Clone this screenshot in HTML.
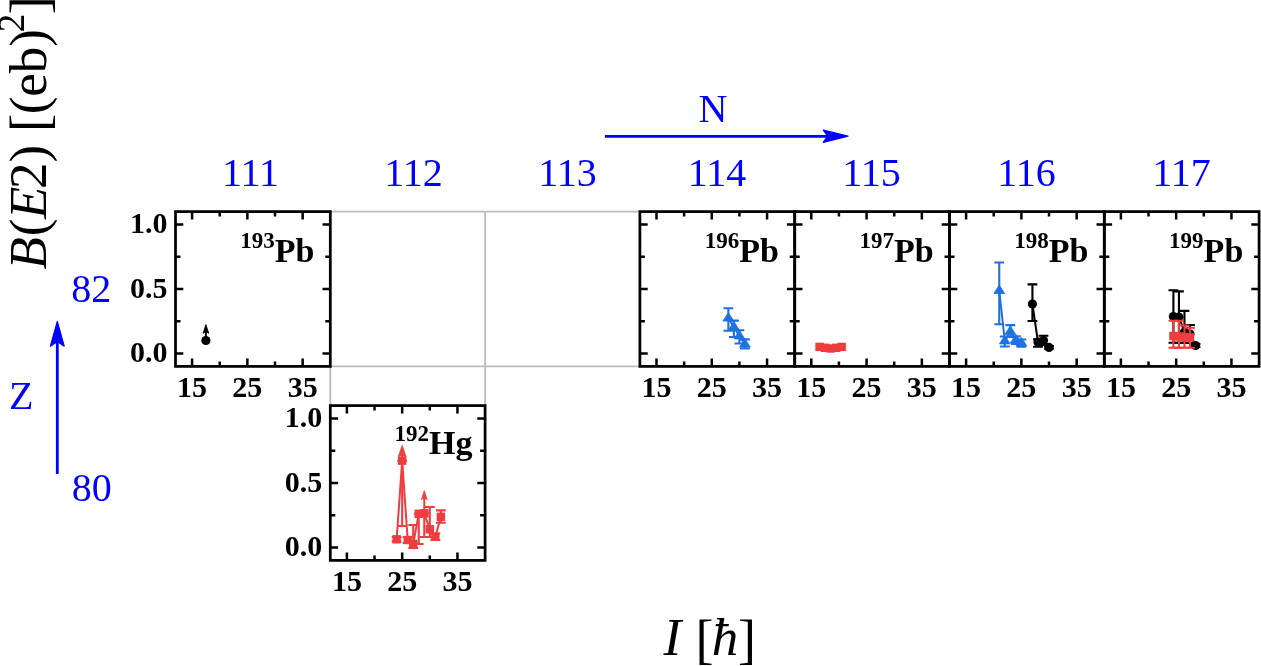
<!DOCTYPE html>
<html><head><meta charset="utf-8"><title>B(E2) systematics</title><style>
html,body{margin:0;padding:0;background:#fff;width:1261px;height:666px;overflow:hidden}
svg{display:block}
text{font-family:"Liberation Serif","Times New Roman",serif}
</style></head><body>
<svg width="1261" height="666" viewBox="0 0 1261 666">
<g stroke="#bdbdbd" stroke-width="1.9" fill="none"><line x1="330.30" y1="211.60" x2="639.90" y2="211.60"/><line x1="330.30" y1="366.40" x2="639.90" y2="366.40"/><line x1="330.30" y1="211.60" x2="330.30" y2="405.60"/><line x1="485.10" y1="211.60" x2="485.10" y2="405.60"/><line x1="639.90" y1="211.60" x2="639.90" y2="366.40"/></g>
<path d="M192.09 211.60v7.8M192.09 366.40v-7.8M219.73 211.60v5.0M219.73 366.40v-5.0M247.37 211.60v7.8M247.37 366.40v-7.8M275.01 211.60v5.0M275.01 366.40v-5.0M302.66 211.60v7.8M302.66 366.40v-7.8M175.50 353.50h7.8M330.30 353.50h-7.8M175.50 321.25h5.0M330.30 321.25h-5.0M175.50 289.00h7.8M330.30 289.00h-7.8M175.50 256.75h5.0M330.30 256.75h-5.0M175.50 224.50h7.8M330.30 224.50h-7.8M656.49 211.60v7.8M656.49 366.40v-7.8M684.13 211.60v5.0M684.13 366.40v-5.0M711.77 211.60v7.8M711.77 366.40v-7.8M739.41 211.60v5.0M739.41 366.40v-5.0M767.06 211.60v7.8M767.06 366.40v-7.8M639.90 353.50h7.8M794.70 353.50h-7.8M639.90 321.25h5.0M794.70 321.25h-5.0M639.90 289.00h7.8M794.70 289.00h-7.8M639.90 256.75h5.0M794.70 256.75h-5.0M639.90 224.50h7.8M794.70 224.50h-7.8M811.29 211.60v7.8M811.29 366.40v-7.8M838.93 211.60v5.0M838.93 366.40v-5.0M866.57 211.60v7.8M866.57 366.40v-7.8M894.21 211.60v5.0M894.21 366.40v-5.0M921.86 211.60v7.8M921.86 366.40v-7.8M794.70 353.50h7.8M949.50 353.50h-7.8M794.70 321.25h5.0M949.50 321.25h-5.0M794.70 289.00h7.8M949.50 289.00h-7.8M794.70 256.75h5.0M949.50 256.75h-5.0M794.70 224.50h7.8M949.50 224.50h-7.8M966.09 211.60v7.8M966.09 366.40v-7.8M993.73 211.60v5.0M993.73 366.40v-5.0M1021.37 211.60v7.8M1021.37 366.40v-7.8M1049.01 211.60v5.0M1049.01 366.40v-5.0M1076.66 211.60v7.8M1076.66 366.40v-7.8M949.50 353.50h7.8M1104.30 353.50h-7.8M949.50 321.25h5.0M1104.30 321.25h-5.0M949.50 289.00h7.8M1104.30 289.00h-7.8M949.50 256.75h5.0M1104.30 256.75h-5.0M949.50 224.50h7.8M1104.30 224.50h-7.8M1120.89 211.60v7.8M1120.89 366.40v-7.8M1148.53 211.60v5.0M1148.53 366.40v-5.0M1176.17 211.60v7.8M1176.17 366.40v-7.8M1203.81 211.60v5.0M1203.81 366.40v-5.0M1231.46 211.60v7.8M1231.46 366.40v-7.8M1104.30 353.50h7.8M1259.10 353.50h-7.8M1104.30 321.25h5.0M1259.10 321.25h-5.0M1104.30 289.00h7.8M1259.10 289.00h-7.8M1104.30 256.75h5.0M1259.10 256.75h-5.0M1104.30 224.50h7.8M1259.10 224.50h-7.8M346.89 405.60v7.8M346.89 560.40v-7.8M374.53 405.60v5.0M374.53 560.40v-5.0M402.17 405.60v7.8M402.17 560.40v-7.8M429.81 405.60v5.0M429.81 560.40v-5.0M457.46 405.60v7.8M457.46 560.40v-7.8M330.30 547.50h7.8M485.10 547.50h-7.8M330.30 515.25h5.0M485.10 515.25h-5.0M330.30 483.00h7.8M485.10 483.00h-7.8M330.30 450.75h5.0M485.10 450.75h-5.0M330.30 418.50h7.8M485.10 418.50h-7.8" stroke="#000" stroke-width="2.5" fill="none"/>
<g stroke="#000" stroke-width="2.75" fill="none" stroke-linejoin="miter"><rect x="175.50" y="211.60" width="154.8" height="154.8"/><rect x="639.90" y="211.60" width="154.8" height="154.8"/><rect x="794.70" y="211.60" width="154.8" height="154.8"/><rect x="949.50" y="211.60" width="154.8" height="154.8"/><rect x="1104.30" y="211.60" width="154.8" height="154.8"/><rect x="330.30" y="405.60" width="154.8" height="154.8"/></g>
<g font-size="30" font-weight="bold"><text x="192.09" y="397.20" text-anchor="middle">15</text><text x="247.37" y="397.20" text-anchor="middle">25</text><text x="302.66" y="397.20" text-anchor="middle">35</text><text x="656.49" y="397.20" text-anchor="middle">15</text><text x="711.77" y="397.20" text-anchor="middle">25</text><text x="767.06" y="397.20" text-anchor="middle">35</text><text x="811.29" y="397.20" text-anchor="middle">15</text><text x="866.57" y="397.20" text-anchor="middle">25</text><text x="921.86" y="397.20" text-anchor="middle">35</text><text x="966.09" y="397.20" text-anchor="middle">15</text><text x="1021.37" y="397.20" text-anchor="middle">25</text><text x="1076.66" y="397.20" text-anchor="middle">35</text><text x="1120.89" y="397.20" text-anchor="middle">15</text><text x="1176.17" y="397.20" text-anchor="middle">25</text><text x="1231.46" y="397.20" text-anchor="middle">35</text><text x="346.89" y="591.20" text-anchor="middle">15</text><text x="402.17" y="591.20" text-anchor="middle">25</text><text x="457.46" y="591.20" text-anchor="middle">35</text><text x="167.50" y="233.30" text-anchor="end">1.0</text><text x="167.50" y="297.80" text-anchor="end">0.5</text><text x="167.50" y="362.30" text-anchor="end">0.0</text><text x="322.30" y="427.30" text-anchor="end">1.0</text><text x="322.30" y="491.80" text-anchor="end">0.5</text><text x="322.30" y="556.30" text-anchor="end">0.0</text></g>
<text x="314.50" y="261.60" text-anchor="end" font-size="34" font-weight="bold"><tspan font-size="23" dy="-13.7">193</tspan><tspan dy="13.7">Pb</tspan></text>
<text x="778.90" y="261.60" text-anchor="end" font-size="34" font-weight="bold"><tspan font-size="23" dy="-13.7">196</tspan><tspan dy="13.7">Pb</tspan></text>
<text x="933.70" y="261.60" text-anchor="end" font-size="34" font-weight="bold"><tspan font-size="23" dy="-13.7">197</tspan><tspan dy="13.7">Pb</tspan></text>
<text x="1088.50" y="261.60" text-anchor="end" font-size="34" font-weight="bold"><tspan font-size="23" dy="-13.7">198</tspan><tspan dy="13.7">Pb</tspan></text>
<text x="1243.30" y="261.60" text-anchor="end" font-size="34" font-weight="bold"><tspan font-size="23" dy="-13.7">199</tspan><tspan dy="13.7">Pb</tspan></text>
<text x="472.50" y="454.40" text-anchor="end" font-size="34" font-weight="bold"><tspan font-size="23" dy="-13.7">192</tspan><tspan dy="13.7">Hg</tspan></text>
<g fill="#0000ff" font-size="40"><text x="250.5" y="185.8" text-anchor="middle">111</text><text x="413.5" y="185.8" text-anchor="middle">112</text><text x="567.6" y="185.8" text-anchor="middle">113</text><text x="716.9" y="185.8" text-anchor="middle">114</text><text x="871.4" y="185.8" text-anchor="middle">115</text><text x="1026.5" y="185.8" text-anchor="middle">116</text><text x="1181.4" y="185.8" text-anchor="middle">117</text><text x="713" y="121.5" text-anchor="middle">N</text><text x="21.2" y="409" text-anchor="middle">Z</text><text x="91.35" y="302.3" text-anchor="middle">82</text><text x="91.8" y="501.4" text-anchor="middle">80</text></g>
<g stroke="#0000ff" stroke-width="2.8" fill="none"><line x1="604.9" y1="136.4" x2="830" y2="136.4"/><line x1="57.3" y1="474" x2="57.3" y2="340"/></g>
<g fill="#0000ff" stroke="#0000ff" stroke-width="1.2" stroke-linejoin="round"><polygon points="848,136.2 823.3,130.1 827.6,136.2 823.3,142.3"/><polygon points="57.3,321.3 64.2,346.2 57.3,341.4 50.4,346.2"/></g>
<text y="655" font-size="53"><tspan x="663.6" font-style="italic">I</tspan> <tspan x="695.6" y="658.3" font-size="54">[</tspan><tspan x="711.7" y="655" font-style="italic">ħ</tspan><tspan x="738.1" y="658.3" font-size="54">]</tspan></text>
<text transform="translate(45.6,0) rotate(-90)" font-size="53"><tspan x="-269.5" font-style="italic">B</tspan><tspan x="-236.2">(</tspan><tspan x="-219.0" font-style="italic">E</tspan><tspan x="-188.9">2)</tspan> <tspan x="-131.9" y="2.3" font-size="55">[</tspan><tspan x="-114.3" y="0">(</tspan><tspan x="-96.7">eb)</tspan><tspan x="-32.2" y="-21.3" font-size="37">2</tspan><tspan x="-14.6" y="2.3" font-size="55">]</tspan></text>
<g><path d="M205.91 338.00V331.40" stroke="#000" stroke-width="2.0" fill="none"/><polygon points="205.91,324.60 208.81,333.40 205.91,331.40 203.01,333.40" fill="#000" stroke="#000" stroke-width="0.8" stroke-linejoin="round"/><circle cx="205.91" cy="340.50" r="4.6" fill="#000"/><polyline points="728.36,318.20 733.89,327.00 739.41,336.00 744.94,344.30" fill="none" stroke="#1f71e0" stroke-width="2.0" stroke-linejoin="round"/><path d="M728.36 308.20V330.80M723.46 308.20h9.80M723.46 330.80h9.80" stroke="#1f71e0" stroke-width="2.1" fill="none"/><path d="M733.89 320.60V337.00M728.99 320.60h9.80M728.99 337.00h9.80" stroke="#1f71e0" stroke-width="2.1" fill="none"/><path d="M739.41 330.30V343.50M734.51 330.30h9.80M734.51 343.50h9.80" stroke="#1f71e0" stroke-width="2.1" fill="none"/><path d="M744.94 339.40V348.50M740.04 339.40h9.80M740.04 348.50h9.80" stroke="#1f71e0" stroke-width="2.1" fill="none"/><polygon points="728.36,312.60 733.76,321.10 722.96,321.10" fill="#1f71e0" stroke="#1f71e0" stroke-width="0.8" stroke-linejoin="round"/><polygon points="733.89,321.40 739.29,329.90 728.49,329.90" fill="#1f71e0" stroke="#1f71e0" stroke-width="0.8" stroke-linejoin="round"/><polygon points="739.41,330.40 744.81,338.90 734.01,338.90" fill="#1f71e0" stroke="#1f71e0" stroke-width="0.8" stroke-linejoin="round"/><polygon points="744.94,338.70 750.34,347.20 739.54,347.20" fill="#1f71e0" stroke="#1f71e0" stroke-width="0.8" stroke-linejoin="round"/><polyline points="819.58,346.90 825.11,347.80 830.64,348.50 836.16,347.80 841.69,346.90" fill="none" stroke="#ee3d3f" stroke-width="2.0" stroke-linejoin="round"/><path d="M819.58 345.00V349.00M816.08 345.00h7.00M816.08 349.00h7.00" stroke="#ee3d3f" stroke-width="2.1" fill="none"/><path d="M825.11 345.60V350.20M821.61 345.60h7.00M821.61 350.20h7.00" stroke="#ee3d3f" stroke-width="2.1" fill="none"/><path d="M830.64 346.20V350.80M827.14 346.20h7.00M827.14 350.80h7.00" stroke="#ee3d3f" stroke-width="2.1" fill="none"/><path d="M836.16 345.60V350.20M832.66 345.60h7.00M832.66 350.20h7.00" stroke="#ee3d3f" stroke-width="2.1" fill="none"/><path d="M841.69 345.00V349.00M838.19 345.00h7.00M838.19 349.00h7.00" stroke="#ee3d3f" stroke-width="2.1" fill="none"/><rect x="815.38" y="342.70" width="8.4" height="8.4" fill="#ee3d3f"/><rect x="820.91" y="343.60" width="8.4" height="8.4" fill="#ee3d3f"/><rect x="826.44" y="344.30" width="8.4" height="8.4" fill="#ee3d3f"/><rect x="831.96" y="343.60" width="8.4" height="8.4" fill="#ee3d3f"/><rect x="837.49" y="342.70" width="8.4" height="8.4" fill="#ee3d3f"/><polyline points="999.26,290.60 1004.79,341.00 1010.31,331.50 1015.84,340.00 1021.37,343.00" fill="none" stroke="#1f71e0" stroke-width="2.0" stroke-linejoin="round"/><path d="M999.26 262.50V324.20M994.36 262.50h9.80M994.36 324.20h9.80" stroke="#1f71e0" stroke-width="2.1" fill="none"/><path d="M1004.79 336.50V346.50M999.89 336.50h9.80M999.89 346.50h9.80" stroke="#1f71e0" stroke-width="2.1" fill="none"/><path d="M1010.31 325.10V337.00M1005.41 325.10h9.80M1005.41 337.00h9.80" stroke="#1f71e0" stroke-width="2.1" fill="none"/><path d="M1015.84 336.40V344.00M1010.94 336.40h9.80M1010.94 344.00h9.80" stroke="#1f71e0" stroke-width="2.1" fill="none"/><path d="M1021.37 339.50V346.80M1016.47 339.50h9.80M1016.47 346.80h9.80" stroke="#1f71e0" stroke-width="2.1" fill="none"/><polygon points="999.26,285.00 1004.66,293.50 993.86,293.50" fill="#1f71e0" stroke="#1f71e0" stroke-width="0.8" stroke-linejoin="round"/><polygon points="1004.79,335.40 1010.19,343.90 999.39,343.90" fill="#1f71e0" stroke="#1f71e0" stroke-width="0.8" stroke-linejoin="round"/><polygon points="1010.31,325.90 1015.71,334.40 1004.91,334.40" fill="#1f71e0" stroke="#1f71e0" stroke-width="0.8" stroke-linejoin="round"/><polygon points="1015.84,334.40 1021.24,342.90 1010.44,342.90" fill="#1f71e0" stroke="#1f71e0" stroke-width="0.8" stroke-linejoin="round"/><polygon points="1021.37,337.40 1026.77,345.90 1015.97,345.90" fill="#1f71e0" stroke="#1f71e0" stroke-width="0.8" stroke-linejoin="round"/><polyline points="1032.43,304.00 1037.96,342.00 1043.49,340.50 1049.01,347.40" fill="none" stroke="#000" stroke-width="2.0" stroke-linejoin="round"/><path d="M1032.43 284.40V321.00M1027.53 284.40h9.80M1027.53 321.00h9.80" stroke="#000" stroke-width="2.1" fill="none"/><path d="M1037.96 339.30V346.80M1033.06 339.30h9.80M1033.06 346.80h9.80" stroke="#000" stroke-width="2.1" fill="none"/><path d="M1043.49 335.80V345.00M1038.59 335.80h9.80M1038.59 345.00h9.80" stroke="#000" stroke-width="2.1" fill="none"/><path d="M1049.01 346.00V348.80M1044.11 346.00h9.80M1044.11 348.80h9.80" stroke="#000" stroke-width="2.1" fill="none"/><circle cx="1032.43" cy="304.00" r="4.6" fill="#000"/><circle cx="1037.96" cy="342.00" r="4.6" fill="#000"/><circle cx="1043.49" cy="340.50" r="4.6" fill="#000"/><circle cx="1049.01" cy="347.40" r="4.6" fill="#000"/><polyline points="1173.41,316.60 1178.94,317.00 1184.46,332.00 1189.99,334.00 1195.52,345.50" fill="none" stroke="#000" stroke-width="2.0" stroke-linejoin="round"/><path d="M1173.41 290.20V342.70M1168.51 290.20h9.80M1168.51 342.70h9.80" stroke="#000" stroke-width="2.1" fill="none"/><path d="M1178.94 291.40V342.70M1174.04 291.40h9.80M1174.04 342.70h9.80" stroke="#000" stroke-width="2.1" fill="none"/><path d="M1184.46 310.90V342.70M1179.56 310.90h9.80M1179.56 342.70h9.80" stroke="#000" stroke-width="2.1" fill="none"/><path d="M1189.99 325.00V343.00M1185.09 325.00h9.80M1185.09 343.00h9.80" stroke="#000" stroke-width="2.1" fill="none"/><path d="M1195.52 344.00V347.00M1190.62 344.00h9.80M1190.62 347.00h9.80" stroke="#000" stroke-width="2.1" fill="none"/><circle cx="1173.41" cy="316.60" r="4.6" fill="#000"/><circle cx="1178.94" cy="317.00" r="4.6" fill="#000"/><circle cx="1184.46" cy="332.00" r="4.6" fill="#000"/><circle cx="1189.99" cy="334.00" r="4.6" fill="#000"/><circle cx="1195.52" cy="345.50" r="4.6" fill="#000"/><polyline points="1173.41,336.00 1178.94,336.50 1184.46,337.00 1189.99,337.50" fill="none" stroke="#ee3d3f" stroke-width="2.0" stroke-linejoin="round"/><path d="M1173.41 320.80V347.80M1168.51 320.80h9.80M1168.51 347.80h9.80" stroke="#ee3d3f" stroke-width="2.1" fill="none"/><path d="M1178.94 320.80V347.80M1174.04 320.80h9.80M1174.04 347.80h9.80" stroke="#ee3d3f" stroke-width="2.1" fill="none"/><path d="M1184.46 325.50V347.80M1179.56 325.50h9.80M1179.56 347.80h9.80" stroke="#ee3d3f" stroke-width="2.1" fill="none"/><path d="M1189.99 327.70V347.80M1185.09 327.70h9.80M1185.09 347.80h9.80" stroke="#ee3d3f" stroke-width="2.1" fill="none"/><rect x="1169.21" y="331.80" width="8.4" height="8.4" fill="#ee3d3f"/><rect x="1174.74" y="332.30" width="8.4" height="8.4" fill="#ee3d3f"/><rect x="1180.26" y="332.80" width="8.4" height="8.4" fill="#ee3d3f"/><rect x="1185.79" y="333.30" width="8.4" height="8.4" fill="#ee3d3f"/><polyline points="396.64,539.30 402.17,460.70 407.70,540.00 413.23,544.00 418.76,513.80 424.29,513.30 429.81,529.30 435.34,536.80 440.87,516.80" fill="none" stroke="#ee3d3f" stroke-width="2.0" stroke-linejoin="round"/><path d="M396.64 537.00V541.50M391.74 537.00h9.80M391.74 541.50h9.80" stroke="#ee3d3f" stroke-width="2.1" fill="none"/><path d="M402.17 460.70V526.00M397.27 460.70h9.80M397.27 526.00h9.80" stroke="#ee3d3f" stroke-width="2.1" fill="none"/><path d="M407.70 537.00V543.00M402.80 537.00h9.80M402.80 543.00h9.80" stroke="#ee3d3f" stroke-width="2.1" fill="none"/><path d="M413.23 525.00V548.00M408.33 525.00h9.80M408.33 548.00h9.80" stroke="#ee3d3f" stroke-width="2.1" fill="none"/><path d="M418.76 513.80V544.00M413.86 513.80h9.80M413.86 544.00h9.80" stroke="#ee3d3f" stroke-width="2.1" fill="none"/><path d="M424.29 513.30V537.00M419.39 513.30h9.80M419.39 537.00h9.80" stroke="#ee3d3f" stroke-width="2.1" fill="none"/><path d="M429.81 507.00V537.00M424.91 507.00h9.80M424.91 537.00h9.80" stroke="#ee3d3f" stroke-width="2.1" fill="none"/><path d="M435.34 533.50V540.00M430.44 533.50h9.80M430.44 540.00h9.80" stroke="#ee3d3f" stroke-width="2.1" fill="none"/><path d="M440.87 510.40V522.80M435.97 510.40h9.80M435.97 522.80h9.80" stroke="#ee3d3f" stroke-width="2.1" fill="none"/><path d="M402.17 460.00V454.90" stroke="#ee3d3f" stroke-width="2.0" fill="none"/><polygon points="402.17,445.40 406.17,456.90 402.17,454.90 398.17,456.90" fill="#ee3d3f" stroke="#ee3d3f" stroke-width="0.8" stroke-linejoin="round"/><path d="M424.29 512.00V497.70" stroke="#ee3d3f" stroke-width="2.0" fill="none"/><polygon points="424.29,490.70 427.19,499.70 424.29,497.70 421.39,499.70" fill="#ee3d3f" stroke="#ee3d3f" stroke-width="0.8" stroke-linejoin="round"/><rect x="392.44" y="535.10" width="8.4" height="8.4" fill="#ee3d3f"/><rect x="397.97" y="456.50" width="8.4" height="8.4" fill="#ee3d3f"/><rect x="403.50" y="535.80" width="8.4" height="8.4" fill="#ee3d3f"/><rect x="409.03" y="539.80" width="8.4" height="8.4" fill="#ee3d3f"/><rect x="414.56" y="509.60" width="8.4" height="8.4" fill="#ee3d3f"/><rect x="420.09" y="509.10" width="8.4" height="8.4" fill="#ee3d3f"/><rect x="425.61" y="525.10" width="8.4" height="8.4" fill="#ee3d3f"/><rect x="431.14" y="532.60" width="8.4" height="8.4" fill="#ee3d3f"/><rect x="436.67" y="512.60" width="8.4" height="8.4" fill="#ee3d3f"/></g>
</svg></body></html>
